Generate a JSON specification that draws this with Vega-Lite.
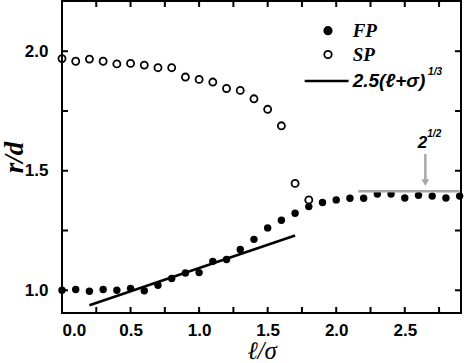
{
  "$schema": "https://vega.github.io/schema/vega-lite/v6.json",
  "width": 399,
  "height": 312,
  "autosize": "none",
  "padding": {"left": 62, "top": 1, "right": 13, "bottom": 50},
  "background": "white",
  "config": {
    "view": {"stroke": "black", "strokeWidth": 2},
    "axis": {
      "grid": false,
      "domain": false,
      "ticks": false,
      "labelFont": "Liberation Sans",
      "labelFontWeight": "bold",
      "labelFontSize": 17,
      "labelColor": "black"
    }
  },
  "datasets": {
    "fp": [
      {"x": 0.0, "y": 1.0}, {"x": 0.1, "y": 1.003}, {"x": 0.2, "y": 0.996}, {"x": 0.3, "y": 1.003},
      {"x": 0.4, "y": 1.0}, {"x": 0.5, "y": 1.008}, {"x": 0.6, "y": 0.998}, {"x": 0.7, "y": 1.021},
      {"x": 0.8, "y": 1.049}, {"x": 0.9, "y": 1.072}, {"x": 1.0, "y": 1.074}, {"x": 1.1, "y": 1.121},
      {"x": 1.2, "y": 1.129}, {"x": 1.3, "y": 1.171}, {"x": 1.4, "y": 1.213}, {"x": 1.5, "y": 1.261},
      {"x": 1.6, "y": 1.293}, {"x": 1.7, "y": 1.322}, {"x": 1.8, "y": 1.35}, {"x": 1.9, "y": 1.367},
      {"x": 2.0, "y": 1.378}, {"x": 2.1, "y": 1.385}, {"x": 2.2, "y": 1.385}, {"x": 2.3, "y": 1.403},
      {"x": 2.4, "y": 1.403}, {"x": 2.5, "y": 1.386}, {"x": 2.6, "y": 1.397}, {"x": 2.7, "y": 1.394},
      {"x": 2.8, "y": 1.386}, {"x": 2.9, "y": 1.394}
    ],
    "sp": [
      {"x": 0.0, "y": 1.969}, {"x": 0.1, "y": 1.958}, {"x": 0.2, "y": 1.967}, {"x": 0.3, "y": 1.958},
      {"x": 0.4, "y": 1.947}, {"x": 0.5, "y": 1.949}, {"x": 0.6, "y": 1.942}, {"x": 0.7, "y": 1.931},
      {"x": 0.8, "y": 1.931}, {"x": 0.9, "y": 1.892}, {"x": 1.0, "y": 1.882}, {"x": 1.1, "y": 1.871},
      {"x": 1.2, "y": 1.844}, {"x": 1.3, "y": 1.836}, {"x": 1.4, "y": 1.801}, {"x": 1.5, "y": 1.757},
      {"x": 1.6, "y": 1.688}, {"x": 1.7, "y": 1.447}, {"x": 1.8, "y": 1.378}
    ],
    "fit": [{"x": 0.2, "y": 0.9375}, {"x": 1.7, "y": 1.229}],
    "ref": [{"x": 2.16, "y": 1.414}, {"x": 2.9, "y": 1.414}],
    "arrow": [{"x": 2.65, "y": 1.57, "y2": 1.45}],
    "legpts": [{"x": 1.94, "y": 2.086, "f": "FP"}, {"x": 1.94, "y": 1.986, "f": "SP"}],
    "legtxt": [{"x": 2.12, "y": 2.086, "t": "FP"}, {"x": 2.12, "y": 1.986, "t": "SP"}],
    "legline": [{"x": 1.77, "y": 1.875}, {"x": 2.09, "y": 1.875}],
    "xticks": [
      {"v": 0.25, "lo": 0.905, "hi": 2.21}, {"v": 0.5, "lo": 0.905, "hi": 2.21}, {"v": 0.75, "lo": 0.905, "hi": 2.21},
      {"v": 1.0, "lo": 0.905, "hi": 2.21}, {"v": 1.25, "lo": 0.905, "hi": 2.21}, {"v": 1.5, "lo": 0.905, "hi": 2.21},
      {"v": 1.75, "lo": 0.905, "hi": 2.21}, {"v": 2.0, "lo": 0.905, "hi": 2.21}, {"v": 2.25, "lo": 0.905, "hi": 2.21},
      {"v": 2.5, "lo": 0.905, "hi": 2.21}, {"v": 2.75, "lo": 0.905, "hi": 2.21}
    ],
    "yticks": [
      {"v": 1.0, "lo": 0, "hi": 2.91}, {"v": 1.25, "lo": 0, "hi": 2.91}, {"v": 1.5, "lo": 0, "hi": 2.91},
      {"v": 1.75, "lo": 0, "hi": 2.91}, {"v": 2.0, "lo": 0, "hi": 2.91}
    ]
  },
  "resolve": {"axis": {"x": "independent", "y": "independent"}},
  "layer": [
    {
      "data": {"name": "fp"},
      "mark": {"type": "point", "filled": true, "color": "black", "size": 55, "opacity": 1},
      "encoding": {
        "x": {"field": "x", "type": "quantitative", "scale": {"domain": [0, 2.91], "nice": false},
          "axis": {"orient": "bottom",
            "values": [0, 0.5, 1, 1.5, 2, 2.5],
            "format": ".1f", "labelPadding": 9,
            "title": "ℓ/σ", "titleFont": "Liberation Serif", "titleFontStyle": "italic", "titleFontSize": 25, "titleFontWeight": "normal",
            "titleBaseline": "alphabetic", "titleY": 45}},
        "y": {"field": "y", "type": "quantitative", "scale": {"domain": [0.905, 2.21], "nice": false, "zero": false},
          "axis": {"orient": "left",
            "values": [1, 1.5, 2],
            "format": ".1f", "labelPadding": 14,
            "title": "r/d", "titleFont": "Liberation Serif", "titleFontStyle": "italic", "titleFontSize": 27, "titleFontWeight": "bold",
            "titleX": -40, "titleBaseline": "alphabetic"}}
      }
    },
    {
      "data": {"name": "xticks"},
      "mark": {"type": "tick", "orient": "vertical", "size": 12, "thickness": 2, "color": "black", "opacity": 1, "clip": true},
      "encoding": {
        "x": {"field": "v", "type": "quantitative", "axis": null},
        "y": {"field": "lo", "type": "quantitative", "axis": null}
      }
    },
    {
      "data": {"name": "xticks"},
      "mark": {"type": "tick", "orient": "vertical", "size": 12, "thickness": 2, "color": "black", "opacity": 1, "clip": true},
      "encoding": {
        "x": {"field": "v", "type": "quantitative", "axis": null},
        "y": {"field": "hi", "type": "quantitative", "axis": null}
      }
    },
    {
      "data": {"name": "yticks"},
      "mark": {"type": "tick", "orient": "horizontal", "size": 12, "thickness": 2, "color": "black", "opacity": 1, "clip": true},
      "encoding": {
        "y": {"field": "v", "type": "quantitative", "axis": null},
        "x": {"field": "lo", "type": "quantitative", "axis": null}
      }
    },
    {
      "data": {"name": "yticks"},
      "mark": {"type": "tick", "orient": "horizontal", "size": 12, "thickness": 2, "color": "black", "opacity": 1, "clip": true},
      "encoding": {
        "y": {"field": "v", "type": "quantitative", "axis": null},
        "x": {"field": "hi", "type": "quantitative", "axis": null}
      }
    },
    {
      "data": {"name": "sp"},
      "mark": {"type": "point", "filled": false, "color": "black", "strokeWidth": 1.8, "size": 50, "opacity": 1},
      "encoding": {
        "x": {"field": "x", "type": "quantitative", "axis": null},
        "y": {"field": "y", "type": "quantitative", "axis": null}
      }
    },
    {
      "data": {"name": "fit"},
      "mark": {"type": "line", "color": "black", "strokeWidth": 2.5},
      "encoding": {
        "x": {"field": "x", "type": "quantitative", "axis": null},
        "y": {"field": "y", "type": "quantitative", "axis": null}
      }
    },
    {
      "data": {"name": "ref"},
      "mark": {"type": "line", "color": "#a8a8a8", "strokeWidth": 2.5, "clip": false},
      "encoding": {
        "x": {"field": "x", "type": "quantitative", "axis": null},
        "y": {"field": "y", "type": "quantitative", "axis": null}
      }
    },
    {
      "data": {"name": "arrow"},
      "mark": {"type": "rule", "color": "#a8a8a8", "strokeWidth": 2.5},
      "encoding": {
        "x": {"field": "x", "type": "quantitative", "axis": null},
        "y": {"field": "y", "type": "quantitative", "axis": null},
        "y2": {"field": "y2"}
      }
    },
    {
      "data": {"name": "arrow"},
      "mark": {"type": "point", "shape": "triangle-down", "filled": true, "color": "#a8a8a8", "size": 60, "opacity": 1},
      "encoding": {
        "x": {"field": "x", "type": "quantitative", "axis": null},
        "y": {"field": "y2", "type": "quantitative", "axis": null}
      }
    },
    {
      "data": {"values": [{"x": 2.63, "y": 1.615, "t": "2"}]},
      "mark": {"type": "text", "font": "Liberation Sans", "fontWeight": "bold", "fontStyle": "italic", "fontSize": 17, "color": "black"},
      "encoding": {
        "x": {"field": "x", "type": "quantitative", "axis": null},
        "y": {"field": "y", "type": "quantitative", "axis": null},
        "text": {"field": "t"}
      }
    },
    {
      "data": {"values": [{"x": 2.715, "y": 1.655, "t": "1/2"}]},
      "mark": {"type": "text", "font": "Liberation Sans", "fontWeight": "bold", "fontStyle": "italic", "fontSize": 10, "color": "black"},
      "encoding": {
        "x": {"field": "x", "type": "quantitative", "axis": null},
        "y": {"field": "y", "type": "quantitative", "axis": null},
        "text": {"field": "t"}
      }
    },
    {
      "data": {"name": "legpts"},
      "mark": {"type": "point", "color": "black", "size": 55, "strokeWidth": 1.8, "opacity": 1},
      "encoding": {
        "x": {"field": "x", "type": "quantitative", "axis": null},
        "y": {"field": "y", "type": "quantitative", "axis": null},
        "fill": {"field": "f", "type": "nominal", "scale": {"domain": ["FP", "SP"], "range": ["black", "white"]}, "legend": null}
      }
    },
    {
      "data": {"name": "legtxt"},
      "mark": {"type": "text", "align": "left", "font": "Liberation Serif", "fontWeight": "bold", "fontStyle": "italic", "fontSize": 19, "color": "black"},
      "encoding": {
        "x": {"field": "x", "type": "quantitative", "axis": null},
        "y": {"field": "y", "type": "quantitative", "axis": null},
        "text": {"field": "t"}
      }
    },
    {
      "data": {"name": "legline"},
      "mark": {"type": "line", "color": "black", "strokeWidth": 2.5},
      "encoding": {
        "x": {"field": "x", "type": "quantitative", "axis": null},
        "y": {"field": "y", "type": "quantitative", "axis": null}
      }
    },
    {
      "data": {"values": [{"x": 2.12, "y": 1.875, "t": "2.5(ℓ+σ)"}]},
      "mark": {"type": "text", "align": "left", "font": "Liberation Sans", "fontWeight": "bold", "fontStyle": "italic", "fontSize": 19, "color": "black"},
      "encoding": {
        "x": {"field": "x", "type": "quantitative", "axis": null},
        "y": {"field": "y", "type": "quantitative", "axis": null},
        "text": {"field": "t"}
      }
    },
    {
      "data": {"values": [{"x": 2.67, "y": 1.915, "t": "1/3"}]},
      "mark": {"type": "text", "align": "left", "font": "Liberation Sans", "fontWeight": "bold", "fontStyle": "italic", "fontSize": 10, "color": "black"},
      "encoding": {
        "x": {"field": "x", "type": "quantitative", "axis": null},
        "y": {"field": "y", "type": "quantitative", "axis": null},
        "text": {"field": "t"}
      }
    }
  ]
}
